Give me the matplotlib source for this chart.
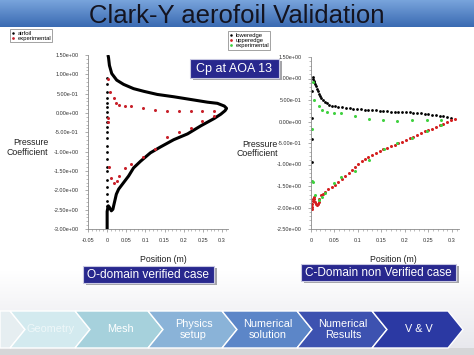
import numpy as np
import matplotlib.pyplot as plt
from matplotlib.patches import Polygon, Rectangle
from matplotlib.ticker import MultipleLocator, FuncFormatter

plt.rcParams['font.family'] = ['Liberation Sans', 'DejaVu Sans']

# ---- O-domain case (left chart) ----
airfoil_x = [0.0, 0.0, 0.001, 0.003, 0.006, 0.011, 0.015, 0.017, 0.021, 0.024, 0.03, 0.043,
             0.056, 0.069, 0.087, 0.113, 0.139, 0.174, 0.21, 0.245, 0.28, 0.297, 0.308, 0.312,
             0.306, 0.288, 0.262, 0.218, 0.174, 0.131, 0.096, 0.069, 0.043, 0.025, 0.012,
             0.006, 0.0035, 0.002]
airfoil_cp = [-3.0, -2.55, -2.49, -2.4, -2.44, -2.53, -2.49, -2.4, -2.23, -2.1, -1.97, -1.8,
              -1.63, -1.42, -1.25, -1.03, -0.88, -0.69, -0.54, -0.33, -0.14, -0.03, 0.06, 0.12,
              0.18, 0.25, 0.28, 0.35, 0.42, 0.48, 0.56, 0.63, 0.74, 0.85, 1.02,
              1.23, 1.44, 1.5]
# sparse airfoil points along the leading edge
airfoil_le_cp = [0.9, 0.76, 0.55, 0.4, 0.27, 0.16, 0.03, -0.11, -0.22, -0.37, -0.5, -0.65,
                 -0.85, -1.02, -1.19, -1.39, -1.5, -1.72, -1.91, -2.1, -2.27, -2.4]

exp_x = [0.003, 0.008, 0.017, 0.023, 0.032, 0.047, 0.062, 0.094, 0.126, 0.157, 0.188, 0.218,
         0.249, 0.28, 0.28, 0.249, 0.218, 0.188, 0.157, 0.126, 0.094, 0.062, 0.047, 0.032,
         0.025, 0.017, 0.009, 0.005, 0.001, 0.001]
exp_cp = [0.89, 0.55, 0.38, 0.27, 0.2, 0.19, 0.19, 0.12, 0.08, 0.06, 0.04, 0.06,
          0.06, 0.06, -0.08, -0.2, -0.38, -0.5, -0.62, -0.92, -1.15, -1.31, -1.42, -1.62,
          -1.76, -1.82, -1.69, -1.39, -0.12, -0.22]

# ---- C-domain case (right chart) ----
lower_x = [0.004, 0.005, 0.006, 0.007, 0.008, 0.010, 0.012, 0.014, 0.016, 0.019, 0.022, 0.025,
           0.029, 0.033, 0.038, 0.044, 0.051, 0.058, 0.066, 0.074, 0.082, 0.090, 0.098, 0.106,
           0.114, 0.122, 0.130, 0.138, 0.146, 0.154, 0.162, 0.170, 0.178, 0.186, 0.194, 0.202,
           0.210, 0.218, 0.226, 0.234, 0.242, 0.250, 0.258, 0.266, 0.274, 0.282, 0.290, 0.298,
           0.0015, 0.0015, 0.0015, 0.0015]
lower_cp = [1.03, 0.99, 0.95, 0.91, 0.87, 0.82, 0.76, 0.70, 0.65, 0.59, 0.54, 0.50,
            0.46, 0.42, 0.39, 0.37, 0.35, 0.34, 0.33, 0.32, 0.31, 0.30, 0.29, 0.28,
            0.27, 0.27, 0.26, 0.26, 0.25, 0.24, 0.24, 0.23, 0.23, 0.22, 0.22, 0.21,
            0.21, 0.20, 0.19, 0.19, 0.18, 0.17, 0.16, 0.15, 0.13, 0.12, 0.10, 0.09,
            0.72, 0.09, -0.40, -0.95]

upper_x = [0.306, 0.298, 0.290, 0.282, 0.274, 0.266, 0.258, 0.250, 0.242, 0.234, 0.226, 0.218,
           0.210, 0.202, 0.194, 0.186, 0.178, 0.170, 0.162, 0.154, 0.146, 0.138, 0.130, 0.122,
           0.115, 0.108, 0.101, 0.094, 0.087, 0.080, 0.072, 0.065, 0.058, 0.051, 0.044, 0.037,
           0.030, 0.025, 0.021, 0.018, 0.016, 0.014, 0.012, 0.010, 0.0085, 0.007, 0.006, 0.005,
           0.004, 0.003, 0.002, 0.0015]
upper_cp = [0.06, 0.03, -0.01, -0.05, -0.09, -0.13, -0.17, -0.19, -0.23, -0.27, -0.31, -0.36,
            -0.39, -0.44, -0.48, -0.51, -0.55, -0.58, -0.61, -0.65, -0.69, -0.73, -0.77, -0.82,
            -0.88, -0.93, -0.99, -1.06, -1.12, -1.19, -1.26, -1.34, -1.41, -1.47, -1.53, -1.58,
            -1.64, -1.68, -1.72, -1.80, -1.88, -1.93, -1.95, -1.93, -1.88, -1.80, -1.76, -1.80,
            -1.86, -1.93, -1.98, -2.03]

exp2_x = [0.0036, 0.007, 0.016, 0.024, 0.035, 0.05, 0.064, 0.094, 0.123, 0.154, 0.184, 0.214,
          0.246, 0.277, 0.276, 0.246, 0.216, 0.184, 0.155, 0.124, 0.094, 0.064, 0.05, 0.03,
          0.024, 0.016, 0.0085, 0.005, 0.0015, 0.0015]
exp2_cp = [0.91, 0.49, 0.37, 0.27, 0.22, 0.19, 0.19, 0.12, 0.06, 0.04, 0.02, 0.04,
           0.04, 0.04, -0.08, -0.23, -0.38, -0.5, -0.64, -0.9, -1.16, -1.29, -1.43, -1.67,
           -1.76, -1.82, -1.7, -1.41, -1.39, -0.17]

stages = ['Geometry', 'Mesh', 'Physics\nsetup', 'Numerical\nsolution', 'Numerical\nResults', 'V & V']
stage_colors = ['#d3eaef', '#a6d1dc', '#8ab3d8', '#5c86c8', '#3d52b0', '#2b39a3']
stage_text = ['#eef7f9', 'white', 'white', 'white', 'white', 'white']

W, H = 474, 355
fig = plt.figure(figsize=(W / 100, H / 100), dpi=100)

# slide background: blue title band, white body, grey foot
bg = np.ones((H, W, 3))
top = np.array([0.47, 0.64, 0.86])
bot = np.array([0.23, 0.42, 0.70])
for r in range(27):
    bg[r] = top + (bot - top) * r / 26
for r in range(270, 348):
    t = (r - 270) / 78
    bg[r] = 1 - t * np.array([0.09, 0.09, 0.07])
bg[348:] = [0.84, 0.84, 0.85]
bax = fig.add_axes([0, 0, 1, 1])
bax.imshow(bg, aspect='auto', extent=(0, W, H, 0))
bax.axis('off')
bax.set_zorder(-10)


def style_axis(ax, xlim, ylim):
    ax.set_facecolor('none')
    ax.set_xlim(*xlim)
    ax.set_ylim(*ylim)
    for s in ['top', 'right']:
        ax.spines[s].set_visible(False)
    for s in ['left', 'bottom']:
        ax.spines[s].set_color('#8a8a8a')
        ax.spines[s].set_linewidth(0.6)
    ax.yaxis.set_major_locator(MultipleLocator(0.5))
    ax.yaxis.set_minor_locator(MultipleLocator(0.1))
    ax.xaxis.set_major_locator(MultipleLocator(0.05))
    ax.xaxis.set_minor_locator(MultipleLocator(0.01))
    ax.yaxis.set_major_formatter(FuncFormatter(lambda v, p: f'{v:.2e}'))
    ax.xaxis.set_major_formatter(FuncFormatter(lambda v, p: f'{v:g}' if abs(v) > 1e-9 else '0'))
    ax.tick_params(which='major', length=2.5, width=0.5, color='#8a8a8a', labelsize=4.0,
                   labelcolor='#333333', pad=4)
    ax.tick_params(which='minor', length=1.2, width=0.4, color='#8a8a8a')
    ax.set_xlabel('Position (m)', fontsize=6.3, color='#222222')
    ax.set_ylabel('Pressure\nCoefficient', fontsize=6.3, color='#222222', rotation=0,
                  ha='right', va='center', multialignment='right', linespacing=1.1)


axL = fig.add_axes([88 / W, 1 - 229 / H, 140 / W, 174 / H])
style_axis(axL, (-0.05, 0.3157), (-3.0, 1.5))
axL.plot(airfoil_x, airfoil_cp, color='black', lw=2.2, solid_capstyle='butt')
h_air, = axL.plot([0.0] * len(airfoil_le_cp), airfoil_le_cp, 'o', color='black', ms=2.0,
                  mew=0, label='airfoil')
h_exp, = axL.plot(exp_x, exp_cp, 'o', color='#c8202a', ms=2.2, mew=0, label='experimental')
axL.xaxis.set_label_coords(0.536, -0.15)
axL.yaxis.set_label_coords(-0.285, 0.47)

axR = fig.add_axes([311 / W, 1 - 229 / H, 148 / W, 172 / H])
style_axis(axR, (0.0, 0.315), (-2.5, 1.5))
h_low, = axR.plot(lower_x, lower_cp, 'o', color='black', ms=2.0, mew=0, label='loweredge')
h_up, = axR.plot(upper_x, upper_cp, 'o', color='#d42020', ms=2.2, mew=0, label='upperedge')
h_ex2, = axR.plot(exp2_x, exp2_cp, 'o', color='#3fd13f', ms=2.2, mew=0, label='experimental')
axR.xaxis.set_label_coords(0.554, -0.15)
axR.yaxis.set_label_coords(-0.223, 0.465)

leg_kw = dict(loc='upper left', bbox_transform=fig.transFigure, fontsize=4.2, frameon=True,
              fancybox=False, edgecolor='#777777', borderpad=0.25, labelspacing=0.05,
              handlelength=0.6, handletextpad=0.4, borderaxespad=0, markerscale=0.9)
lg1 = fig.legend(handles=[h_air, h_exp], bbox_to_anchor=(10 / W, 1 - 29 / H), **leg_kw)
lg2 = fig.legend(handles=[h_low, h_up, h_ex2], bbox_to_anchor=(228 / W, 1 - 31 / H), **leg_kw)
for lg in (lg1, lg2):
    lg.get_frame().set_linewidth(0.6)

# overlay in slide pixel coordinates
ov = fig.add_axes([0, 0, 1, 1])
ov.set_xlim(0, W)
ov.set_ylim(H, 0)
ov.axis('off')
ov.set_zorder(10)

ov.text(237, 23, 'Clark-Y aerofoil Validation', fontsize=18.5, ha='center', va='baseline',
        color='#141420')


def caption(x, y, w, h, txt, fs):
    ov.add_patch(Rectangle((x + 3, y + 2), w, h, facecolor='#a4a4a8', edgecolor='none'))
    ov.add_patch(Rectangle((x, y), w, h, facecolor='#28288e', edgecolor='#c9c9e2', lw=0.8))
    ov.text(x + w / 2, y + h / 2 + 0.5, txt, fontsize=fs, color='white', ha='center',
            va='center')


caption(190, 59, 89, 19, 'Cp at AOA 13', 9)
caption(83, 266, 131, 17, 'O-domain verified case', 8.6)
caption(301, 264, 155, 17, 'C-Domain non Verified case', 8.5)

# process chevrons
ctop, cbot, d = 311, 348, 15
cmid = (ctop + cbot) / 2
ov.add_patch(Polygon([(0, ctop), (10, ctop), (25, cmid), (10, cbot), (0, cbot)],
                     facecolor='#e6eef1', edgecolor='white', lw=1))
tips = [25, 90, 163, 237, 312, 387, 463]
for i, name in enumerate(stages):
    L = tips[i] - d
    R = tips[i + 1] - d
    ov.add_patch(Polygon([(L, ctop), (R, ctop), (R + d, cmid), (R, cbot), (L, cbot),
                          (L + d, cmid)], facecolor=stage_colors[i], edgecolor='white', lw=1))
    ov.text((L + d + R) / 2 + 1, cmid, name, fontsize=7.8, color=stage_text[i], ha='center',
            va='center', linespacing=1.05)

fig.savefig('out.png', dpi=100)
